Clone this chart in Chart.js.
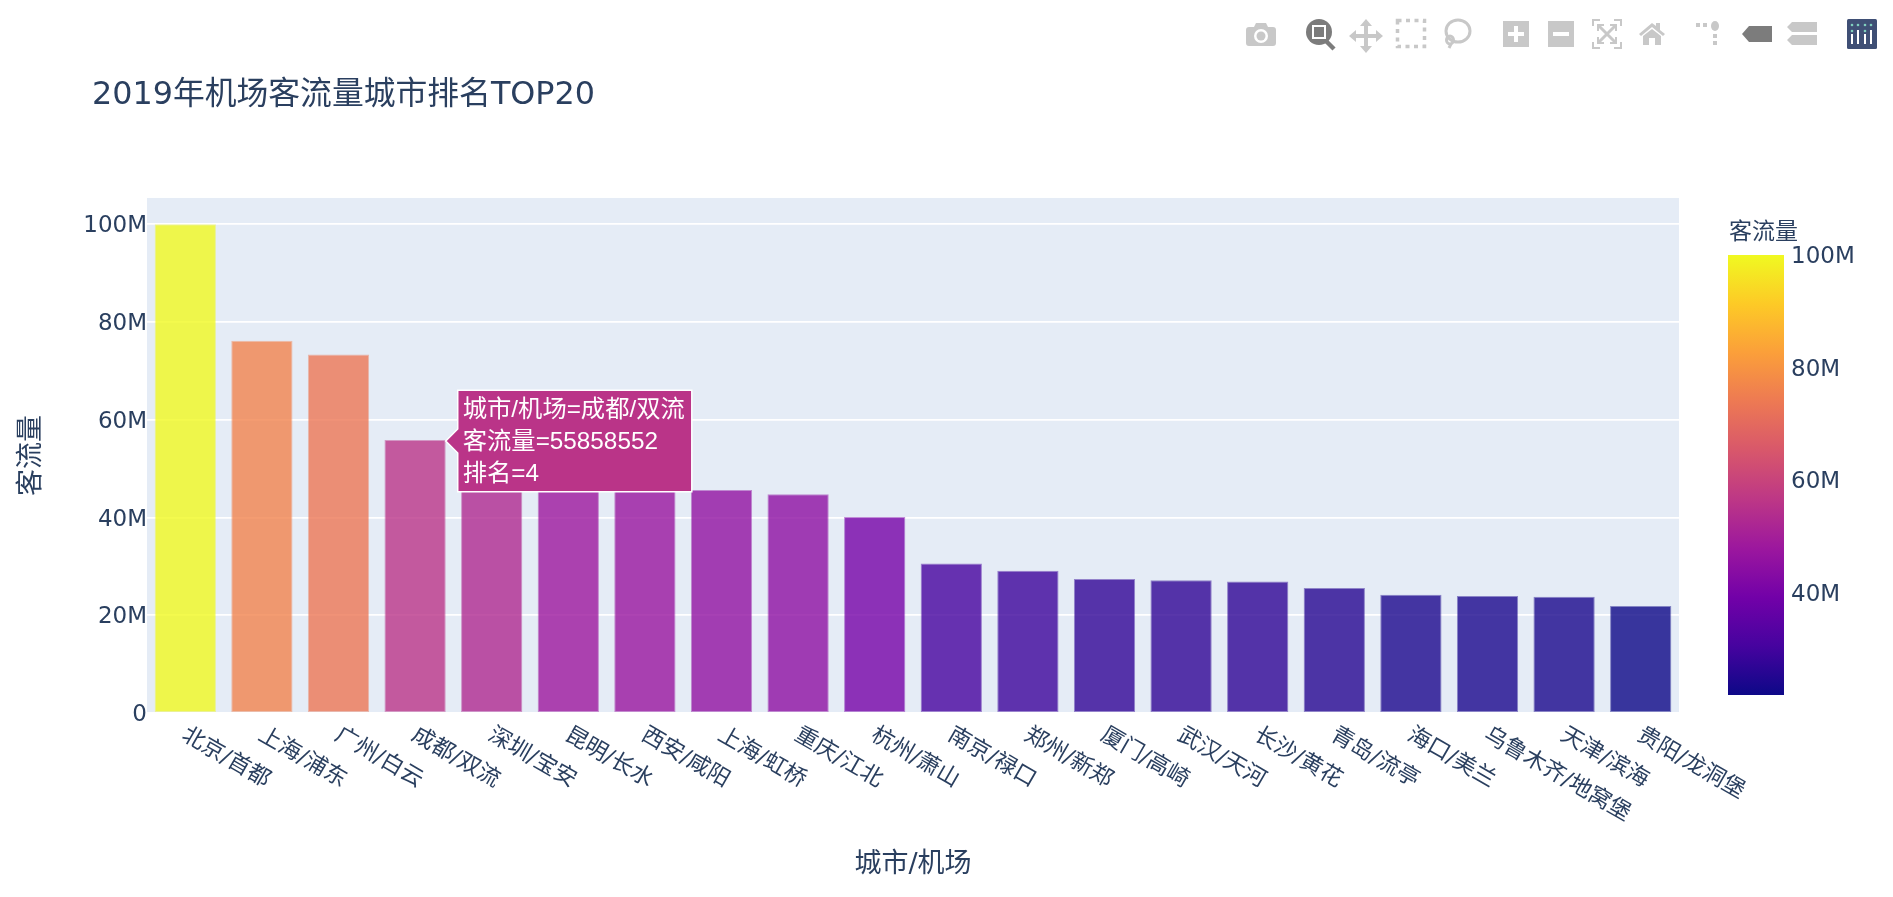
<!DOCTYPE html>
<html lang="zh">
<head>
<meta charset="utf-8">
<title>2019年机场客流量城市排名TOP20</title>
<style>
html,body{margin:0;padding:0;background:#fff;width:1893px;height:897px;overflow:hidden}
canvas{position:absolute;display:block}
#main{left:0;top:0}
#cbar{left:1690px;top:200px}
#bar{position:absolute;left:0;top:0;pointer-events:none}
</style>
<script src="https://cdn.jsdelivr.net/npm/chart.js@4"></script>
</head>
<body>
<canvas id="main" width="1893" height="897"></canvas>
<canvas id="cbar" width="203" height="520"></canvas>
<svg id="bar" width="1893" height="70" viewBox="0 0 1893 70" xmlns="http://www.w3.org/2000/svg">
  <g fill="#c8c8c8">
    <path d="M1246 30q0-3 3-3h5l2-4h10l2 4h5q3 0 3 3v13q0 3-3 3h-24q-3 0-3-3z"/>
    <circle cx="1261" cy="36" r="7" fill="#fff"/><circle cx="1261" cy="36" r="4.5"/>
  </g>
  <g>
    <ellipse cx="1319" cy="32" rx="13" ry="13" fill="#7c7c7c"/>
    <rect x="1313" y="26" width="12" height="12" fill="#7c7c7c" stroke="#fff" stroke-width="2"/>
    <path d="M1326 41l8 8" stroke="#7c7c7c" stroke-width="4.5"/>
  </g>
  <g fill="#c8c8c8">
    <path d="M1366 19l6 7h-4v8h8v-4l7 6-7 6v-4h-8v8h4l-6 7-6-7h4v-8h-8v4l-7-6 7-6v4h8v-8h-4z"/>
  </g>
  <rect x="1397.5" y="20.5" width="27" height="26" fill="none" stroke="#c8c8c8" stroke-width="3.5" stroke-dasharray="4 4.5"/>
  <g fill="none" stroke="#c8c8c8" stroke-width="3">
    <ellipse cx="1458" cy="31" rx="12" ry="11"/>
    <ellipse cx="1450" cy="40" rx="3.5" ry="4"/>
    <path d="M1451 44l-2 4"/>
  </g>
  <g fill="#c8c8c8">
    <rect x="1503" y="21" width="26" height="26"/>
    <rect x="1548" y="21" width="26" height="26"/>
    <path d="M1639 34l13-11 4 3v-3h4v7l5 4-2 2-11-9-11 9z"/>
    <path d="M1643 36l9-7 9 7v9h-6v-7h-6v7h-6z"/>
    <rect x="1696" y="23" width="4" height="4"/><rect x="1703" y="23" width="4" height="4"/>
    <ellipse cx="1715" cy="26" rx="4" ry="5"/>
    <rect x="1713" y="34" width="4" height="4"/><rect x="1713" y="41" width="4" height="4"/>
    <path d="M1787 27l5-5h25v10h-25z M1787 40l5-5h25v10h-25z"/>
  </g>
  <g fill="#fff">
    <rect x="1514" y="26" width="4" height="16"/><rect x="1508" y="32" width="16" height="4"/>
    <rect x="1553" y="32" width="16" height="4"/>
  </g>
  <g fill="none" stroke="#c8c8c8" stroke-width="2">
    <path d="M1593 26v-6h7M1614 20h7v6M1621 42v6h-7M1600 48h-7v-6"/>
    <path d="M1598 25l18 18M1616 25l-18 18" stroke-width="3"/>
    <path d="M1598 31v-6h6M1610 25h6v6M1616 37v6h-6M1604 43h-6v-6" stroke-width="2"/>
  </g>
  <path d="M1742 34l7-8h23v16h-23z" fill="#7c7c7c"/>
  <rect x="1847" y="19" width="30" height="30" rx="1.5" fill="#3f4f75"/>
  <g fill="#80cfbe">
    <circle cx="1852" cy="25" r="1.3"/><circle cx="1858" cy="25" r="1.3"/><circle cx="1865" cy="25" r="1.3"/><circle cx="1871" cy="25" r="1.3"/>
    <circle cx="1852" cy="31" r="1.3"/><circle cx="1865" cy="31" r="1.3"/>
  </g>
  <g fill="#fff">
    <rect x="1851" y="34" width="2" height="10"/><rect x="1857" y="30" width="2" height="14"/>
    <rect x="1864" y="34" width="2" height="10"/><rect x="1870" y="30" width="2" height="14"/>
  </g>
</svg>
<script>
// ---------- data ----------
const chartTitle = "2019年机场客流量城市排名TOP20";
const xAxisTitle = "城市/机场";
const yAxisTitle = "客流量";
const cities = ["北京/首都","上海/浦东","广州/白云","成都/双流","深圳/宝安","昆明/长水","西安/咸阳","上海/虹桥","重庆/江北","杭州/萧山","南京/禄口","郑州/新郑","厦门/高崎","武汉/天河","长沙/黄花","青岛/流亭","海口/美兰","乌鲁木齐/地窝堡","天津/滨海","贵阳/龙洞堡"];
const passengers = [100013642,76153455,73378475,55858552,52931925,48075978,47220547,45637882,44786722,40108405,30581685,29129328,27413363,27150246,26911393,25556278,24216552,23963167,23813318,21910911];
const ranks = [1,2,3,4,5,6,7,8,9,10,11,12,13,14,15,16,17,18,19,20];
const yTicks = [0,20000000,40000000,60000000,80000000,100000000];
const colorbarTicks = [40000000,60000000,80000000,100000000];
const plasma = ["#0d0887","#46039f","#7201a8","#9c179e","#bd3786","#d8576b","#ed7953","#fb9f3a","#fdca26","#f0f921"];
const hoverIndex = 3;

// ---------- helpers ----------
const INK = "#2a3f5f";
const LATIN = '"DejaVu Sans","Noto Sans CJK SC",sans-serif';
const HOVER = '"Liberation Sans","Noto Sans CJK SC",sans-serif';
const dMin = Math.min(...passengers), dMax = Math.max(...passengers);
const hex = h => [1,3,5].map(i => parseInt(h.slice(i,i+2),16));
function plasmaRGB(v){
  const t = Math.max(0,Math.min(1,(v-dMin)/(dMax-dMin)))*(plasma.length-1);
  const i = Math.min(Math.floor(t),plasma.length-2), f = t-i;
  const a = hex(plasma[i]), b = hex(plasma[i+1]);
  return a.map((c,k)=>Math.round(c+(b[k]-c)*f));
}
const rgba = (v,al) => `rgba(${plasmaRGB(v).join(",")},${al})`;
const fmtM = v => v===0 ? "0" : (v/1e6)+"M";
// nudges an axis's tick labels by a small offset
function nudgeLabels(s,dx,dy){
  const f = s._computeLabelItems;
  s._computeLabelItems = function(a){
    const items = f.call(this,a);
    items.forEach(i=>{ i.options.translation = [i.options.translation[0]+dx, i.options.translation[1]+dy]; });
    return items;
  };
}

Chart.Tooltip.positioners.barEdge = function(items){
  if(!items.length) return false;
  const el = items[0].element;
  return {x: el.x + el.width/2, y: el.y + 1};
};

const plotBackground = {
  id:"plotBackground",
  beforeDraw(chart){
    const a = chart.chartArea, c = chart.ctx;
    c.save(); c.fillStyle = "#E5ECF6"; c.fillRect(a.left,a.top,a.right-a.left,a.bottom-a.top); c.restore();
  }
};
const titleAt = {
  id:"titleAt",
  afterLayout(chart,args,opts){
    if(chart.titleBlock){ chart.titleBlock.left = opts.x; chart.titleBlock.right = chart.width; }
  }
};

// ---------- main chart ----------
const main = new Chart(document.getElementById("main"),{
  type:"bar",
  data:{labels:cities,datasets:[{
    data:passengers,
    backgroundColor:passengers.map(v=>rgba(v,0.8)),
    borderColor:passengers.map(v=>rgba(v,0.45)),
    borderWidth:1,
    borderSkipped:false,
    categoryPercentage:0.8,
    barPercentage:1
  }]},
  options:{
    responsive:false,animation:false,events:[],
    devicePixelRatio:1,
    layout:{padding:{left:0,top:0,right:214,bottom:0}},
    scales:{
      x:{
        grid:{display:false},border:{display:false},
        ticks:{autoSkip:false,minRotation:-30,maxRotation:-30,color:INK,padding:1,
          font:{family:LATIN,size:22.5}},
        title:{display:true,text:xAxisTitle,color:INK,padding:{top:0,bottom:15.7},
          font:{family:LATIN,size:27}},
        afterFit(s){ s.height=184; s.paddingLeft=0; s.paddingRight=0; s._getXAxisLabelAlignment=()=>"left";
          if(!s._nudged){ s._nudged=true; nudgeLabels(s,-2,0); } }
      },
      y:{
        min:0,max:105400000,
        afterBuildTicks(s){ s.ticks = yTicks.map(v=>({value:v})); },
        grid:{color:"#ffffff",lineWidth:1.8,drawTicks:false},border:{display:false},
        ticks:{color:INK,padding:0,autoSkip:false,callback:fmtM,
          font:{family:LATIN,size:23}},
        title:{display:true,text:yAxisTitle,color:INK,padding:{top:15.8,bottom:0},
          font:{family:LATIN,size:27}},
        afterFit(s){ s.width=147; s.paddingTop=0; s.paddingBottom=0;
          if(!s._nudged){ s._nudged=true; nudgeLabels(s,0,2); } }
      }
    },
    plugins:{
      legend:{display:false},
      titleAt:{x:92},
      title:{display:true,text:chartTitle,align:"start",color:INK,
        padding:{top:77,bottom:82.8},font:{family:LATIN,size:31.8,weight:"normal"}},
      tooltip:{
        enabled:true,animation:false,position:"barEdge",xAlign:"left",yAlign:"center",
        caretSize:12,caretPadding:0,cornerRadius:0,
        backgroundColor:rgba(passengers[hoverIndex],1),
        borderColor:"#ffffff",borderWidth:1.5,
        displayColors:false,padding:{top:5,bottom:3,left:5,right:7},bodySpacing:3,
        bodyColor:"#ffffff",
        bodyFont:{family:HOVER,size:24.3,lineHeight:1.2},
        callbacks:{
          title:()=>"",
          label:c=>[
            xAxisTitle+"="+cities[c.dataIndex],
            yAxisTitle+"="+passengers[c.dataIndex],
            "排名="+ranks[c.dataIndex]
          ]
        }
      }
    }
  },
  plugins:[plotBackground,titleAt]
});
main.tooltip.setActiveElements([{datasetIndex:0,index:hoverIndex}],{x:0,y:0});
main.draw();

// ---------- colour bar, a second chart with its own value scale ----------
new Chart(document.getElementById("cbar"),{
  type:"bar",
  data:{labels:[yAxisTitle],datasets:[{
    data:[[dMin,dMax]],
    categoryPercentage:1,barPercentage:1,
    borderWidth:0,
    backgroundColor(ctx){
      const a = ctx.chart.chartArea;
      if(!a) return plasma[4];
      const g = ctx.chart.ctx.createLinearGradient(0,a.bottom,0,a.top);
      plasma.forEach((c,i)=>g.addColorStop(i/(plasma.length-1),c));
      return g;
    }
  }]},
  options:{
    responsive:false,animation:false,events:[],devicePixelRatio:1,
    layout:{padding:{left:38,top:0,right:0,bottom:25}},
    scales:{
      x:{display:false},
      y:{
        position:"right",min:dMin,max:dMax,
        grid:{display:false,drawTicks:false},border:{display:false},
        afterBuildTicks(s){ s.ticks = colorbarTicks.map(v=>({value:v})); },
        ticks:{color:INK,padding:7,autoSkip:false,callback:fmtM,font:{family:LATIN,size:23}},
        afterFit(s){ s.width=109; s.paddingTop=0; s.paddingBottom=0;
          if(!s._nudged){ s._nudged=true; nudgeLabels(s,0,2); } }
      }
    },
    plugins:{
      legend:{display:false},tooltip:{enabled:false},
      titleAt:{x:39},
      title:{display:true,text:yAxisTitle,align:"start",color:INK,
        padding:{top:19,bottom:8.4},font:{family:LATIN,size:23,weight:"normal"}}
    }
  },
  plugins:[titleAt]
});
</script>
</body>
</html>
